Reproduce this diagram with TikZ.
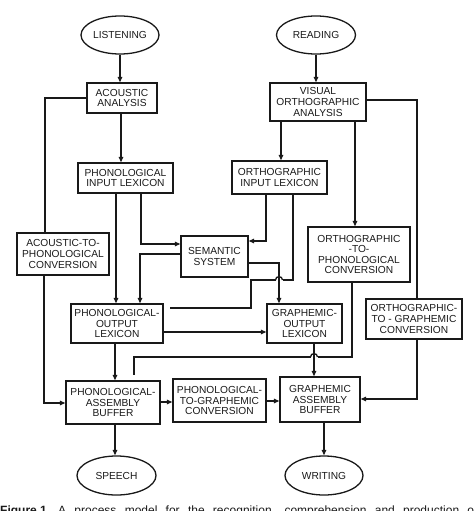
\documentclass[tikz,border=0pt]{standalone}
\usepackage{fontspec}
\setmainfont{Liberation Sans}
\usetikzlibrary{arrows.meta,shapes.geometric}
\begin{document}
\begin{tikzpicture}[x=1pt,y=-1pt,
  ink/.style={draw=black!90, line width=1.3pt},
  box/.style={ink, rectangle, align=center, inner sep=0pt, text=black!90,
    font=\fontsize{10.2}{10.6}\selectfont},
  oval/.style={ink, ellipse, align=center, inner sep=0pt, text=black!90,
    font=\fontsize{10.2}{10.6}\selectfont},
  conn/.style={ink},
  arr/.style={ink, -{Triangle[length=5.5pt,width=4.5pt]}}]
\useasboundingbox (0,0) rectangle (474,511);

% nodes
\node[oval, minimum width=78pt, minimum height=38pt] (listen) at (120,35) {LISTENING};
\node[oval, minimum width=79pt, minimum height=38pt] (reading) at (316,35) {READING};
\node[box, minimum width=70pt, minimum height=30pt] (acoustic) at (122,98) {ACOUSTIC\\ANALYSIS};
\node[box, minimum width=96pt, minimum height=38pt] (visual) at (318,102) {VISUAL\\ORTHOGRAPHIC\\ANALYSIS};
\node[box, minimum width=95pt, minimum height=30pt] (phin) at (125.5,178) {PHONOLOGICAL\\INPUT LEXICON};
\node[box, minimum width=95pt, minimum height=33pt] (orthin) at (279.5,177.5) {ORTHOGRAPHIC\\INPUT LEXICON};
\node[box, minimum width=92pt, minimum height=42pt] (a2p) at (63,254) {ACOUSTIC-TO-\\PHONOLOGICAL\\CONVERSION};
\node[box, minimum width=67pt, minimum height=41pt] (semantic) at (214.5,256.5) {SEMANTIC\\SYSTEM};
\node[box, minimum width=102pt, minimum height=55pt] (o2p) at (359,254.5) {ORTHOGRAPHIC\\-TO-\\PHONOLOGICAL\\CONVERSION};
\node[box, minimum width=92pt, minimum height=39pt] (phout) at (117,323.5) {PHONOLOGICAL-\\OUTPUT\\LEXICON};
\node[box, minimum width=75pt, minimum height=39pt] (grout) at (304.5,323.5) {GRAPHEMIC-\\OUTPUT\\LEXICON};
\node[box, minimum width=96pt, minimum height=40pt] (o2g) at (414,319) {ORTHOGRAPHIC-\\TO - GRAPHEMIC\\CONVERSION};
\node[box, minimum width=94pt, minimum height=43pt] (phbuf) at (113,402.5) {PHONOLOGICAL-\\ASSEMBLY\\BUFFER};
\node[box, minimum width=93pt, minimum height=43pt] (p2g) at (219.5,400.5) {PHONOLOGICAL-\\TO-GRAPHEMIC\\CONVERSION};
\node[box, minimum width=80pt, minimum height=45pt] (grbuf) at (320,399.5) {GRAPHEMIC\\ASSEMBLY\\BUFFER};
\node[oval, minimum width=79pt, minimum height=39pt] (speech) at (116.5,475.5) {SPEECH};
\node[oval, minimum width=78pt, minimum height=39pt] (writing) at (324,475.5) {WRITING};

% free ends and hop points
\coordinate (lexend) at (170,308);
\coordinate (bufend) at (134,375);
\coordinate (hopAr) at (282.5,280);
\coordinate (hopAl) at (275.5,280);
\coordinate (hopBr) at (317.5,357);
\coordinate (hopBl) at (310.5,357);

% connectors
\draw[arr] (listen.south) -- (listen.south |- acoustic.north);
\draw[arr] (reading.south) -- (reading.south |- visual.north);
\draw[conn] (acoustic.west) -| (a2p.north -| 45,0);
\draw[arr] (acoustic.south -| 121,0) -- (phin.north -| 121,0);
\draw[arr] (visual.south -| 281,0) -- (orthin.north -| 281,0);
\draw[arr] (visual.south -| 355,0) -- (o2p.north -| 355,0);
\draw[conn] (visual.east |- 0,100) -| (o2g.north -| 417,0);
\draw[arr] (phin.south -| 116,0) -- (phout.north -| 116,0);
\draw[arr] (phin.south -| 141,0) |- (semantic.west |- 0,244);
\draw[arr] (orthin.south -| 266,0) |- (semantic.east |- 0,241);
% orthographic input lexicon -> phonological output lexicon (hops over a line)
\draw[conn] (orthin.south -| 293,0) |- (hopAr);
\draw[conn] (hopAr) .. controls (282.5,275.5) and (275.5,275.5) .. (hopAl);
\draw[conn] (hopAl) -- (251,280) |- (lexend);
\draw[arr] (semantic.west |- 0,254) -| (phout.north -| 140,0);
\draw[arr] (semantic.east |- 0,263) -| (grout.north -| 279,0);
\draw[arr] (phout.east |- 0,332) -- (grout.west |- 0,332);
\draw[arr] (phout.south -| 115,0) -- (phbuf.north -| 115,0);
% orthographic-to-phonological conversion -> phonological assembly buffer
\draw[conn] (o2p.south -| 352,0) |- (hopBr);
\draw[conn] (hopBr) .. controls (317.5,352.5) and (310.5,352.5) .. (hopBl);
\draw[conn] (hopBl) -- (134,357) -- (bufend);
\draw[arr] (grout.south -| 314,0) -- (grbuf.north -| 314,0);
\draw[arr] (a2p.south -| 44,0) |- (phbuf.west |- 0,403);
\draw[arr] (phbuf.east |- 0,402) -- (p2g.west |- 0,402);
\draw[arr] (p2g.east |- 0,401) -- (grbuf.west |- 0,401);
\draw[arr] (o2g.south -| 417,0) |- (grbuf.east |- 0,399);
\draw[arr] (phbuf.south -| 115,0) -- (speech.north -| 115,0);
\draw[arr] (grbuf.south -| 324,0) -- (writing.north);

% caption (cut by the page edge, as in the reference)
\node[anchor=base west, inner sep=0pt, text=black!90, font=\fontsize{12}{12}\selectfont\bfseries] (figlabel) at (0,514) {Figure 1};
\node[anchor=base west, inner sep=0pt, text=black!90, font=\fontsize{12}{12}\selectfont] (caption) at (58,514) {\makebox[416pt][s]{A process model for the recognition, comprehension and production o}};
\end{tikzpicture}
\end{document}
